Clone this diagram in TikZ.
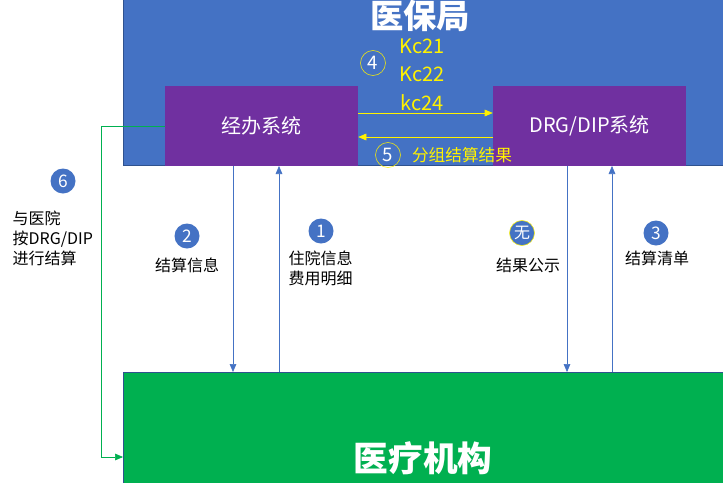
\documentclass[tikz,border=0pt]{standalone}
\usepackage{fontspec}
\setmainfont{Noto Sans CJK SC}
\usetikzlibrary{arrows.meta}
\definecolor{cblue}{HTML}{4472C4}
\definecolor{cpurple}{HTML}{7030A0}
\definecolor{cgreen}{HTML}{00B050}
\definecolor{cedge}{HTML}{2F528F}
\begin{document}
\begin{tikzpicture}[x=0.75pt,y=-0.75pt,
  numc/.style={circle,fill=cblue,text=white,inner sep=0pt,minimum size=25pt*0.75,font=\fontsize{13}{13}\selectfont},
  lbl/.style={font=\fontsize{12}{15}\selectfont,align=left},
  ylw/.style={text=yellow,font=\fontsize{15}{15}\selectfont},
  conn/.style={draw=cblue,-{Triangle[length=6pt,width=5pt]}},
  yconn/.style={draw=yellow,-{Triangle[length=6pt,width=5pt]}}]
\useasboundingbox (0,0) rectangle (723,482);
\fill[white] (0,0) rectangle (723,482);
\node[draw=cedge,fill=cblue,minimum width=600*0.75pt,minimum height=166*0.75pt,anchor=north west,inner sep=0pt] (yb) at (123,-1) {};
\node[draw=cedge,fill=cgreen,minimum width=600*0.75pt,minimum height=112*0.75pt,anchor=north west,inner sep=0pt] (yl) at (123,372) {};
\node[text=white,font=\bfseries\fontsize{25}{25}\selectfont] (t1) at (420,16) {医保局};
\node[text=white,font=\bfseries\fontsize{26}{26}\selectfont] (t2) at (423,458) {医疗机构};
\node[fill=cpurple,minimum width=193*0.75pt,minimum height=80*0.75pt,inner sep=0pt,text=white,font=\fontsize{15}{15}\selectfont] (jb) at (261.5,126) {经办系统};
\node[fill=cpurple,minimum width=193*0.75pt,minimum height=80*0.75pt,inner sep=0pt,text=white,font=\fontsize{15}{15}\selectfont] (drg) at (589.5,126) {DRG/DIP系统};
\coordinate (jbS1) at (233,166); \coordinate (ylN1) at (233,372);
\coordinate (jbS2) at (279,166); \coordinate (ylN2) at (279,372);
\coordinate (drS1) at (567,166); \coordinate (ylN3) at (567,372);
\coordinate (drS2) at (612,166); \coordinate (ylN4) at (612,372);
\draw[conn] (jbS1) -- (ylN1);
\draw[conn] (ylN2) -- (jbS2);
\draw[conn] (drS1) -- (ylN3);
\draw[conn] (ylN4) -- (drS2);
\draw[yconn] (jb.east |- 0,113) -- (drg.west |- 0,113);
\draw[yconn] (drg.west |- 0,137) -- (jb.east |- 0,137);
\draw[draw=cgreen,-{Triangle[length=6pt,width=5pt]}] (jb.west) -- (101,126) -- (101,457) -- (yl.west |- 0,457);
\node[ylw] (k1) at (422,46) {Kc21};
\node[ylw] (k2) at (422,74) {Kc22};
\node[ylw] (k3) at (422,103) {kc24};
\node[circle,draw=yellow,inner sep=0pt,minimum size=25*0.75pt,text=white,font=\fontsize{14}{14}\selectfont] (c4) at (373,63) {4};
\node[circle,draw=yellow,inner sep=0pt,minimum size=25*0.75pt,text=white,font=\fontsize{14}{14}\selectfont] (c5) at (388,155) {5};
\node[text=yellow,font=\fontsize{12.5}{13}\selectfont] (f5) at (462,155) {分组结算结果};
\node[numc] (n6) at (63,181) {6};
\node[numc] (n2) at (187,236) {2};
\node[numc] (n1) at (321,231) {1};
\node[numc,draw=yellow,font=\fontsize{12}{12}\selectfont] (n0) at (522,233) {无};
\node[numc] (n3) at (656,233) {3};
\node[lbl,anchor=north west] (l6) at (8,206) {与医院\\按DRG/DIP\\进行结算};
\node[lbl] (l2) at (187,265) {结算信息};
\node[lbl,anchor=north west] (l1) at (284,246) {住院信息\\费用明细};
\node[lbl] (l0) at (528,265) {结果公示};
\node[lbl] (l3) at (657,258) {结算清单};
\end{tikzpicture}
\end{document}
